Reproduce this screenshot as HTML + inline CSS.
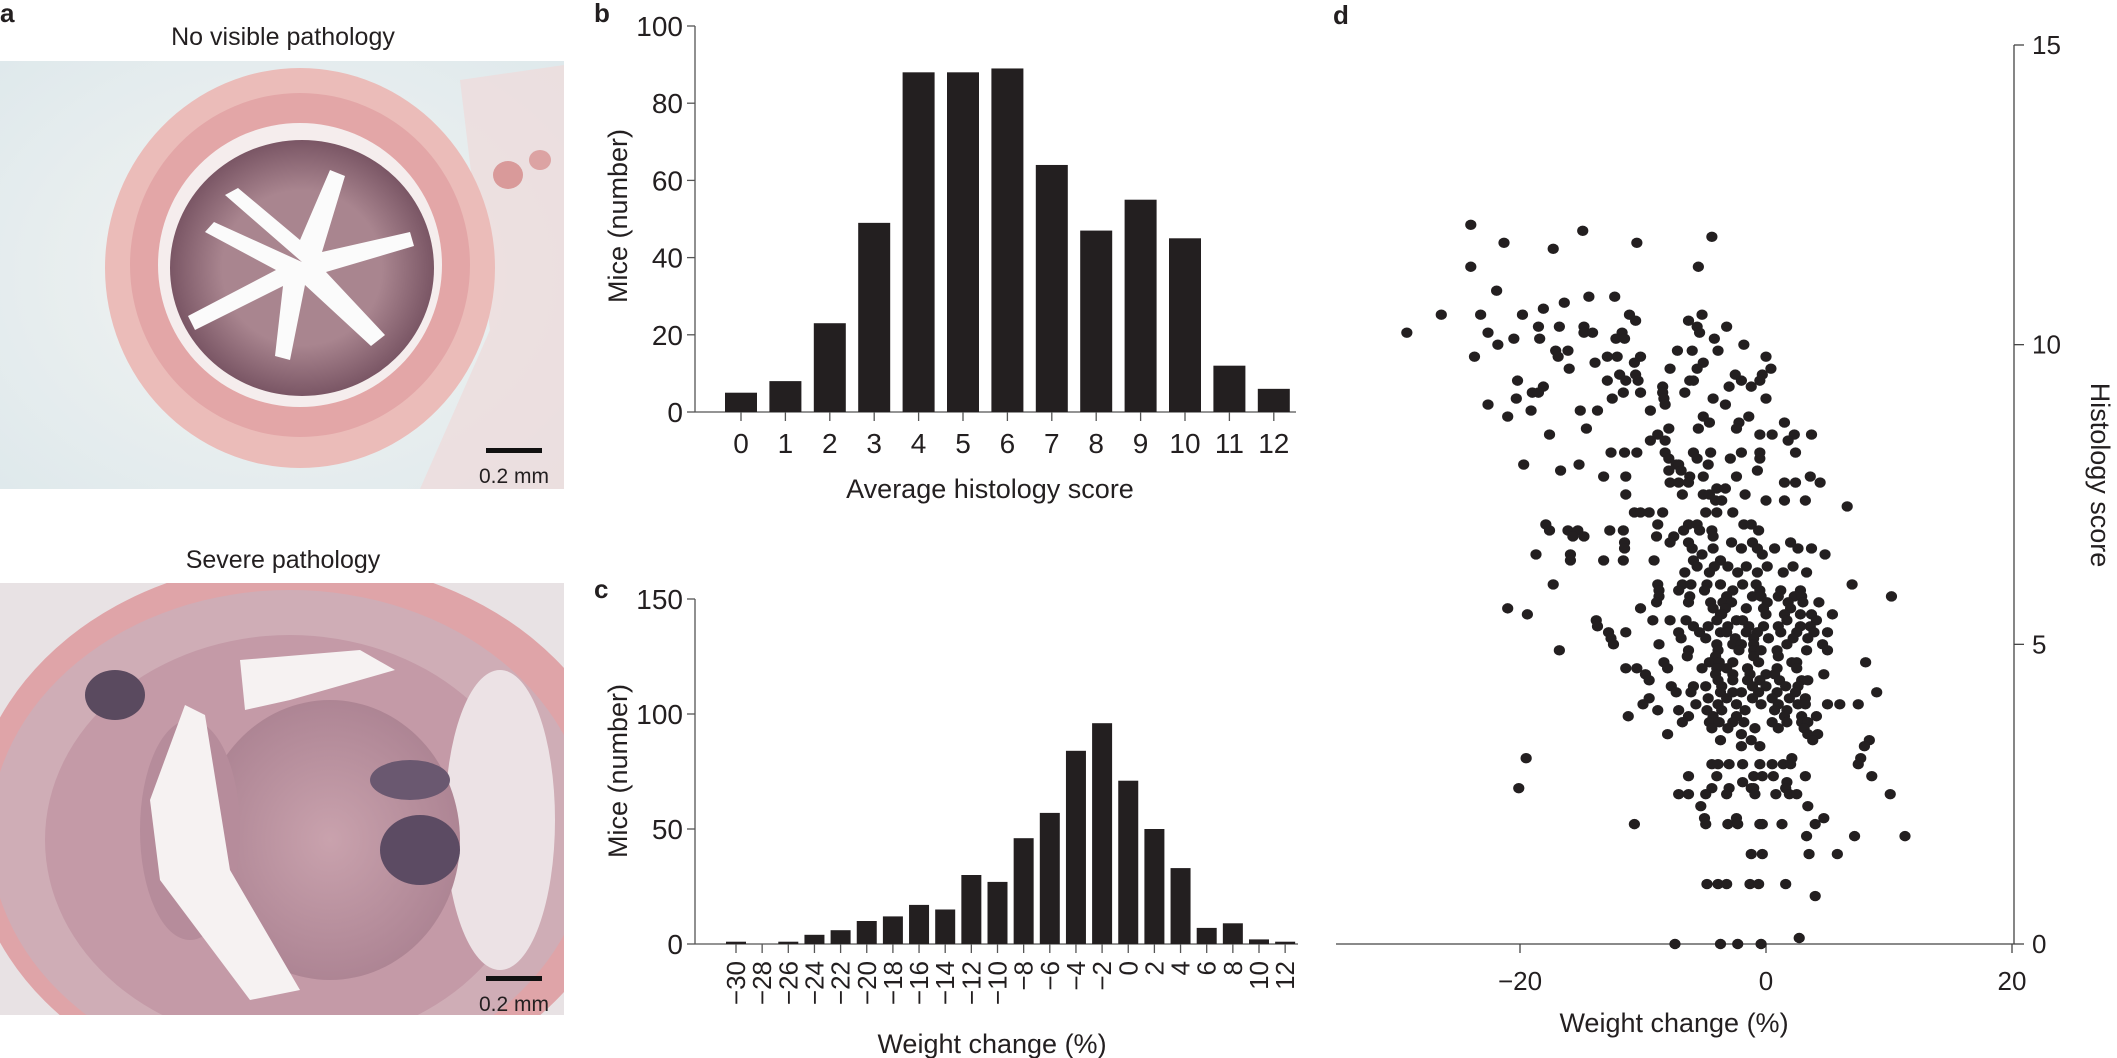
<!DOCTYPE html>
<html><head><meta charset="utf-8"><style>
html,body{margin:0;padding:0;background:#fff;}
svg{display:block;}
.n{font-family:"Liberation Sans Narrow","Liberation Sans",sans-serif;fill:#231f20;}
.w{font-family:"Liberation Sans",sans-serif;fill:#231f20;}
</style></head><body>
<svg id="fig" width="2117" height="1058" viewBox="0 0 2117 1058" xmlns="http://www.w3.org/2000/svg">
<defs>
<radialGradient id="bgA" cx="50%" cy="50%" r="70%"><stop offset="0" stop-color="#f3f4f2"/><stop offset="1" stop-color="#dfe9ec"/></radialGradient>
<radialGradient id="mucA" cx="50%" cy="50%" r="55%"><stop offset="0.55" stop-color="#a9858f"/><stop offset="1" stop-color="#6e4a5a"/></radialGradient>
<radialGradient id="mucB" cx="50%" cy="50%" r="60%"><stop offset="0" stop-color="#c9a2ad"/><stop offset="1" stop-color="#a87f8f"/></radialGradient>
<clipPath id="clipTop"><rect x="0" y="61" width="564" height="428"/></clipPath>
<clipPath id="clipBot"><rect x="0" y="583" width="564" height="432"/></clipPath>
</defs>
<!-- panel a -->
<text x="0" y="22" class="w" font-size="26" font-weight="bold">a</text>
<text x="283" y="45" class="w" font-size="25" text-anchor="middle">No visible pathology</text>
<g clip-path="url(#clipTop)">
<rect x="0" y="61" width="564" height="428" fill="url(#bgA)"/>
<path d="M460 80 L564 65 L564 489 L420 489 L490 330 Z" fill="#eddcdc" opacity="0.8"/>
<ellipse cx="300" cy="268" rx="195" ry="200" fill="#ebbcb9"/>
<ellipse cx="300" cy="265" rx="170" ry="172" fill="#e3a6a7"/>
<ellipse cx="300" cy="265" rx="142" ry="142" fill="#f5eded"/>
<ellipse cx="302" cy="268" rx="132" ry="128" fill="url(#mucA)"/>
<path d="M302 262 L225 195 L238 188 L300 240 L330 170 L345 176 L322 252 L410 232 L414 246 L326 272 L385 335 L371 346 L305 285 L290 360 L275 356 L283 286 L195 330 L188 316 L276 270 L205 232 L214 222 Z" fill="#fbfbfb"/>
<ellipse cx="508" cy="175" rx="15" ry="14" fill="#d99a9a"/>
<ellipse cx="540" cy="160" rx="11" ry="10" fill="#dca3a3"/>
<rect x="486" y="448" width="56" height="5" fill="#111"/>
<text x="514" y="483" class="w" font-size="21" text-anchor="middle">0.2 mm</text>
</g>
<text x="283" y="568" class="w" font-size="25" text-anchor="middle">Severe pathology</text>
<g clip-path="url(#clipBot)">
<rect x="0" y="583" width="564" height="432" fill="#e8e2e4"/>
<ellipse cx="300" cy="830" rx="330" ry="270" fill="#dfa4a8"/>
<ellipse cx="290" cy="835" rx="300" ry="245" fill="#cfadb6"/>
<ellipse cx="290" cy="840" rx="245" ry="205" fill="#c49aa7"/>
<ellipse cx="500" cy="820" rx="55" ry="150" fill="#ece2e5"/>
<ellipse cx="330" cy="840" rx="130" ry="140" fill="url(#mucB)"/>
<ellipse cx="190" cy="830" rx="50" ry="110" fill="#b68c9b"/>
<path d="M185 705 L205 715 L230 870 L300 990 L250 1000 L160 880 L150 800 Z" fill="#f6f2f2"/>
<path d="M240 660 L360 650 L395 670 L290 700 L245 710 Z" fill="#f6f2f2"/>
<ellipse cx="115" cy="695" rx="30" ry="25" fill="#5a4a5f"/>
<ellipse cx="410" cy="780" rx="40" ry="20" fill="#6a5870"/>
<ellipse cx="420" cy="850" rx="40" ry="35" fill="#5c4b63"/>
<rect x="486" y="976" width="56" height="5" fill="#111"/>
<text x="514" y="1011" class="w" font-size="21" text-anchor="middle">0.2 mm</text>
</g>
<!-- panel labels -->
<text x="594" y="22" class="w" font-size="26" font-weight="bold">b</text>
<text x="594" y="598" class="w" font-size="26" font-weight="bold">c</text>
<text x="1333" y="24" class="w" font-size="26" font-weight="bold">d</text>
<g id="chartB"></g>
<g id="chartC"></g>
<g id="chartD"></g>
</svg>
<script>
// ---- Panel b data ----
const bCategories = [0,1,2,3,4,5,6,7,8,9,10,11,12];
const bValues = [5,8,23,49,88,88,89,64,47,55,45,12,6];
const bTicks = [0,20,40,60,80,100];
// ---- Panel c data ----
const cCategories = [-30,-28,-26,-24,-22,-20,-18,-16,-14,-12,-10,-8,-6,-4,-2,0,2,4,6,8,10,12];
const cValues = [1,0,1,4,6,10,12,17,15,30,27,46,57,84,96,71,50,33,7,9,2,1];
const cTicks = [0,50,100,150];
// ---- Panel d data ----
const dXTicks = [-20,0,20];
const dYTicks = [0,5,10,15];
const dScoreLevels = [12.0,11.9,11.8,11.7,11.6,11.3,10.9,10.8,10.7,10.6,10.5,10.4,10.3,10.2,10.1,10.0,9.9,9.8,9.7,9.6,9.5,9.4,9.3,9.2,9.1,9.0,8.9,8.8,8.7,8.6,8.5,8.4,8.2,8.1,8.0,7.9,7.8,7.7,7.6,7.5,7.4,7.3,7.2,7.0,6.9,6.8,6.7,6.6,6.5,6.4,6.3,6.2,6.0,5.9,5.8,5.7,5.6,5.5,5.4,5.3,5.2,5.1,5.0,4.9,4.8,4.7,4.6,4.5,4.4,4.3,4.2,4.1,4.0,3.9,3.8,3.7,3.6,3.5,3.4,3.3,3.1,3.0,2.8,2.7,2.6,2.5,2.3,2.1,2.0,1.8,1.5,1.0,0.8,0.1,0];
const dWeightsByScore = [
[-24.0],[-14.9],[-4.4],[-21.3,-10.5],[-17.3],[-24.0,-5.5],[-21.9],[-14.4,-12.3],[-16.4],[-18.1],
[-26.4,-23.2,-19.8,-11.1,-5.2],[-10.6,-6.3],[-18.5,-16.8,-14.8,-5.6,-3.2],[-29.2,-22.6,-14.8,-14.1,-11.7,-5.4],
[-20.5,-18.4,-12.2,-11.5,-4.2],[-21.8,-1.8],[-17.1,-16.1,-7.2,-6.0,-3.9],[-23.7,-16.9,-12.9,-12.1,-10.2,0],
[-13.9,-10.7,-5.1],[-16.0,-7.8,-5.6,0.4],[-11.9,-10.6,-2.5,-0.3],[-20.2,-12.9,-11.4,-10.4,-6.2,-5.9,-2.0,-0.5],
[-18.1,-8.4,-3.0,-1.2],[-19.0,-18.5,-11.6,-10.2,-8.4,-6.6],[-20.3,-12.5,-8.3,-4.3,0],[-22.6,-8.2,-3.3],
[-19.1,-15.1,-13.7,-9.4],[-21.0,-5.1,-1.4],[-4.6,-2.2,1.5],[-14.6,-7.9,-5.5,-2.4],[-17.6,-8.8,-0.5,0.5,2.3,3.7],
[-9.4,-8.2,1.8],[-12.6,-11.5,-10.5,-8.2,-5.9,-4.5,-2.0,-0.5,2.4],[-7.9,-5.6,-2.9,-0.5],[-19.7,-15.2,-7.3,-7.1,-4.7],
[-16.7,-7.9,-6.9,-0.7],[-13.2,-11.4,-6.2,-5.1,-2.4,3.6],[-7.8,-7.1,-6.3,1.5,2.4,4.4],[-4.0,-3.3],
[-11.4,-6.8,-5.1,-4.6,-1.7],[-4.1,-3.6,0,1.5,3.2],[6.6],[-10.7,-10.2,-9.5,-8.4,-4.9,-4.0,-2.7],
[-17.9,-8.8,-6.3,-5.6,-1.8,-1.2],[-17.6,-16.1,-15.3,-12.7,-11.6,-6.7,-5.4,-4.4,-0.6],[-15.7,-14.8,-8.9,-7.5,-4.3],
[-11.5,-7.8,-6.3,-2.8,-1.1,2.0],[-11.5,-6.0,-4.3,-2.0,-0.7,0.7,2.6,3.7],[-18.7,-15.9,-5.2,-0.3,4.8],
[-15.9,-13.2,-11.6,-9.1,-5.9,-3.7],[-5.6,-4.2,-3.1,-1.6,0.1,2.2],[-6.6,-4.6,-2.3,-0.7,1.4,3.3],
[-17.3,-8.8,-6.8,-6.1,-4.8,-3.7,-1.9,-0.8,7.0],[-8.7,-7.1,-5.0,-2.7,-0.5,1.2,2.8],
[-8.7,-6.2,-3.2,-1.1,-0.4,1.0,2.3,2.9,10.2],[-8.9,-6.3,-4.5,-3.5,-2.8,0.1,1.8,3.0,4.3],
[-21.0,-10.2,-4.3,-3.3,-1.6,-0.2,2.0],[-19.4,-3.7,-3.6,0,1.5,2.8,3.7,5.4],[-13.8,-9.2,-7.8,-6.5,-4.0,-2.4,-1.9,1.7,4.1],
[-13.7,-5.9,-4.7,-3.1,-1.4,-0.2,1.0,2.8,3.6],[-12.8,-11.4,-7.1,-5.4,-3.7,-3.2,-1.6,-0.7,1.2,2.5,3.9,5.0],
[-12.6,-6.9,-4.9,-2.5,-1.0,0.2,2.2,3.4],[-12.4,-8.7,-4.0,-2.7,-2.0,-1.0,1.7,4.6],
[-16.8,-6.3,-3.9,-2.2,-1.0,-0.4,0.9,3.3,5.0],[-6.4,-4.1,-1.0,1.0],[-8.3,-4.6,-3.8,-2.7,-0.6,2.1,2.5,8.1],
[-11.4,-10.5,-8.0,-5.2,-4.0,-3.2,-1.5,0.9,2.5],[-9.8,-4.1,-2.7,-1.3,0,0.7,4.7],[-9.5,-3.9,-2.7,-1.5,-0.5,1.1,2.9,3.4],
[-7.7,-5.9,-4.9,-3.6,-1.1,0,1.6,2.6],[-7.3,-6.1,-3.7,-2.7,-2.0,-0.6,0.9,2.4,9.0],[-9.5,-4.7,-3.2,-1.1,0.5,1.9,3.2],
[-10.0,-5.7,-3.9,-2.4,-0.4,1.0,2.6,3.2,5.0,6.0,7.5],[-8.8,-7.1,-4.8,-3.6,-1.7,0.7,1.7],[-11.2,-6.3,-4.3,-2.4,1.5,2.9,4.1],
[-6.8,-4.6,-3.8,-2.7,-1.8,0.5,1.7,2.9,3.4],[-4.4,-3.1,-0.9,1.0,3.1],[-8.0,-2.0,3.4,4.2],[-3.7,-1.2,3.8,8.4],
[-2.0,-0.5,8.0],[-19.5,2.1,7.7],[-4.4,-3.9,-3.0,-1.9,-0.5,0.5,1.4,2.0,7.5],[-6.3,-4.0,-1.0,-0.3,0.6,3.2,8.6],
[-1.9,1.7],[-20.1,-4.4,-3.0,-1.2,-1.0,1.6],[-7.1,-6.3,-4.9,-3.2,-0.9,0.8,1.9,2.5,10.1],[-5.3,3.4],[-5.0,-2.4,4.7],
[-10.7,-4.9,-3.1,-2.3,-0.5,-0.3,1.3,4.0],[3.3,7.2,11.3],[-1.2,-0.3,3.5,5.8],[-4.8,-3.9,-3.2,-1.3,-0.6,1.6],
[4.0],[2.7],[-7.4,-3.7,-2.3,-0.4]
];

const NS = "http://www.w3.org/2000/svg";
function mk(parent, tag, attrs, text){
  const e = document.createElementNS(NS, tag);
  for (const k in attrs) e.setAttribute(k, attrs[k]);
  if (text !== undefined) e.textContent = text;
  parent.appendChild(e);
  return e;
}

// ---------- Chart b ----------
(function(){
  const g = document.getElementById('chartB');
  const x0 = 695, yTop = 26, yBot = 412, xEnd = 1296;
  const ys = v => yBot - (v/100)*(yBot-yTop);
  const step = 44.4, first = 741;
  const xs = i => first + i*step;
  let a = mk(g,'line',{x1:x0,y1:yTop,x2:x0,y2:yBot,stroke:'#555','stroke-width':1.3});
   
  a = mk(g,'line',{x1:x0,y1:yBot,x2:xEnd,y2:yBot,stroke:'#555','stroke-width':1.3});
   
  bTicks.forEach(t=>{
    mk(g,'line',{x1:x0-8,y1:ys(t),x2:x0,y2:ys(t),stroke:'#555','stroke-width':1.3});
    const tx = mk(g,'text',{x:x0-12,y:ys(t)+10,'text-anchor':'end','font-size':28,class:'n'},String(t));
     
  });
  bCategories.forEach((c,i)=>{
    const r = mk(g,'rect',{x:xs(i)-16,y:ys(bValues[i]),width:32,height:yBot-ys(bValues[i]),fill:'#231f20'});
     
    mk(g,'line',{x1:xs(i),y1:yBot,x2:xs(i),y2:yBot+9,stroke:'#555','stroke-width':1.3});
    const tx = mk(g,'text',{x:xs(i),y:453,'text-anchor':'middle','font-size':28,class:'n'},String(c));
     
  });
  let t = mk(g,'text',{x:990,y:498,'text-anchor':'middle','font-size':27,class:'n'},'Average histology score');
   
  t = mk(g,'text',{x:0,y:0,'text-anchor':'middle','font-size':27,class:'n',transform:'translate(627,216) rotate(-90)'},'Mice (number)');
   
})();

// ---------- Chart c ----------
(function(){
  const g = document.getElementById('chartC');
  const x0 = 695, yTop = 599, yBot = 944, xEnd = 1298;
  const ys = v => yBot - (v/150)*(yBot-yTop);
  const step = 26.15, first = 736;
  const xs = i => first + i*step;
  let a = mk(g,'line',{x1:x0,y1:yTop,x2:x0,y2:yBot,stroke:'#555','stroke-width':1.3});
   
  a = mk(g,'line',{x1:x0,y1:yBot,x2:xEnd,y2:yBot,stroke:'#555','stroke-width':1.3});
   
  cTicks.forEach(t=>{
    mk(g,'line',{x1:x0-8,y1:ys(t),x2:x0,y2:ys(t),stroke:'#555','stroke-width':1.3});
    const tx = mk(g,'text',{x:x0-12,y:ys(t)+10,'text-anchor':'end','font-size':28,class:'n'},String(t));
     
  });
  cCategories.forEach((c,i)=>{
    if (cValues[i] > 0){
      const r = mk(g,'rect',{x:xs(i)-10,y:ys(cValues[i]),width:20,height:yBot-ys(cValues[i]),fill:'#231f20'});
       
    }
    mk(g,'line',{x1:xs(i),y1:yBot,x2:xs(i),y2:yBot+9,stroke:'#555','stroke-width':1.3});
    const lbl = c < 0 ? '\u2212' + Math.abs(c) : String(c);
    const tx = mk(g,'text',{x:0,y:0,'text-anchor':'end','font-size':26,class:'n',transform:'translate('+(xs(i)+9)+',961) rotate(-90)'},lbl);
     
  });
  let t = mk(g,'text',{x:992,y:1053,'text-anchor':'middle','font-size':27,class:'n'},'Weight change (%)');
   
  t = mk(g,'text',{x:0,y:0,'text-anchor':'middle','font-size':27,class:'n',transform:'translate(627,771) rotate(-90)'},'Mice (number)');
   
})();

// ---------- Chart d ----------
(function(){
  const g = document.getElementById('chartD');
  const xAxisR = 2014, yTop = 45, yBot = 944, xLeft = 1336;
  const xs = v => 1766 + v*12.3;
  const ys = v => yBot - (v/15)*(yBot-yTop);
  let a = mk(g,'line',{x1:xLeft,y1:yBot,x2:xAxisR,y2:yBot,stroke:'#444','stroke-width':1.3});
   
  a = mk(g,'line',{x1:xAxisR,y1:yTop,x2:xAxisR,y2:yBot,stroke:'#444','stroke-width':1.3});
   
  dXTicks.forEach(t=>{
    mk(g,'line',{x1:xs(t),y1:yBot,x2:xs(t),y2:yBot+9,stroke:'#444','stroke-width':1.3});
    const lbl = t < 0 ? '\u2212' + Math.abs(t) : String(t);
    const tx = mk(g,'text',{x:xs(t),y:990,'text-anchor':'middle','font-size':26,class:'w'},lbl);
     
  });
  dYTicks.forEach(t=>{
    mk(g,'line',{x1:xAxisR,y1:ys(t),x2:xAxisR+10,y2:ys(t),stroke:'#444','stroke-width':1.3});
    const tx = mk(g,'text',{x:xAxisR+18,y:ys(t)+9,'text-anchor':'start','font-size':26,class:'w'},String(t));
     
  });
  dScoreLevels.forEach((s,i)=>{
    dWeightsByScore[i].forEach(w=>{
      const c = mk(g,'ellipse',{cx:xs(w),cy:ys(s),rx:5.6,ry:5.2,fill:'#231f20'});
       
    });
  });
  let t = mk(g,'text',{x:1674,y:1032,'text-anchor':'middle','font-size':27,class:'w'},'Weight change (%)');
   
  t = mk(g,'text',{x:0,y:0,'text-anchor':'middle','font-size':27,class:'w',transform:'translate(2091,475) rotate(90)'},'Histology score');
   
})();
</script>
</body></html>
